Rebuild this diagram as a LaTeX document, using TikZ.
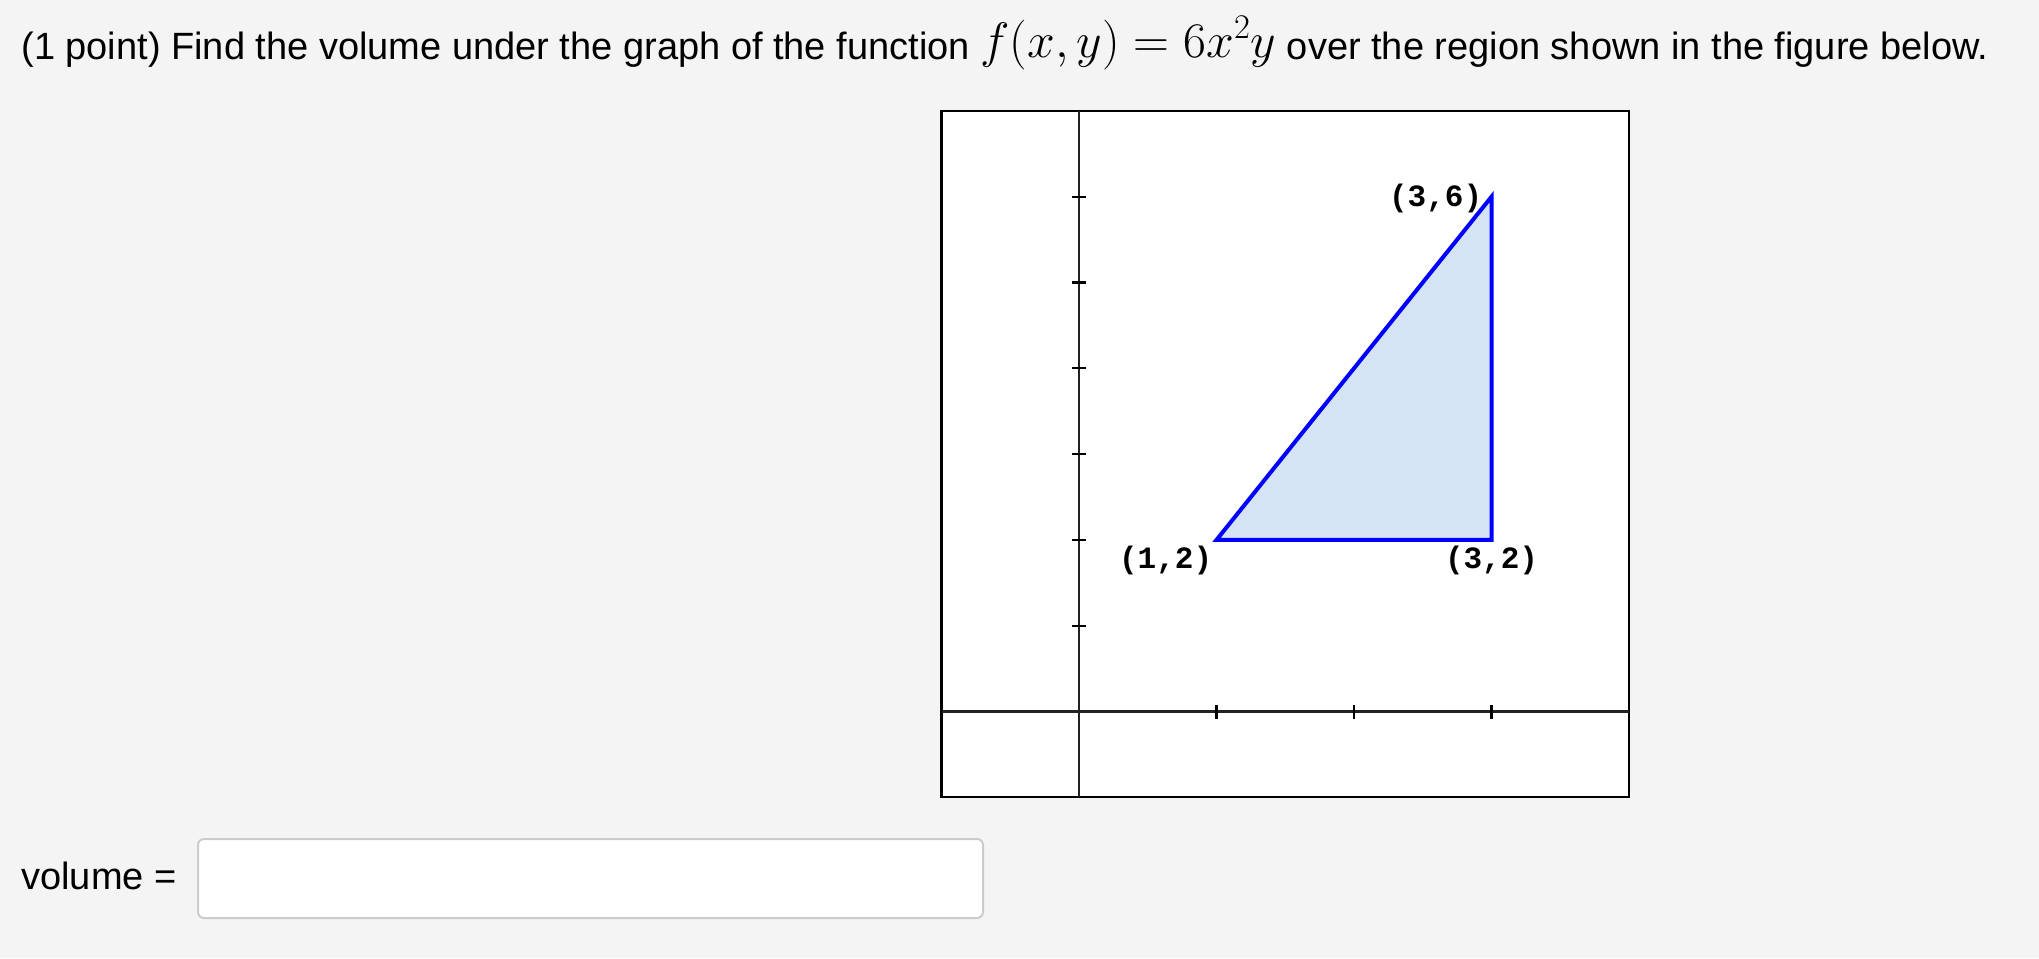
\documentclass[tikz,border=0pt]{standalone}
\usepackage{amsmath}
\usepackage{fontspec}
\setmainfont{Liberation Sans}
\newfontfamily\ptfont{Liberation Mono}
\usetikzlibrary{positioning,calc}
\definecolor{pagebg}{HTML}{F4F4F4}
\definecolor{regionfill}{HTML}{D5E4F5}
\definecolor{boxgray}{HTML}{CCCCCC}
\definecolor{axisgray}{HTML}{222222}
\newcommand{\bigmath}[1]{{\fontsize{23}{27}\selectfont\raisebox{1pt}{$#1$}}}
\newcommand{\supsq}{\mbox{\fontsize{17}{17}\selectfont$2$}}
\tikzstyle{question} = [anchor=base west, inner sep=0pt, font=\fontsize{19}{23}\selectfont]
\tikzstyle{answerbox} = [draw=boxgray, line width=1pt, fill=white, rounded corners=3pt]
\tikzstyle{plotframe} = [draw=black, line width=1.1pt, fill=white]
\tikzstyle{axisline} = [draw=axisgray, line width=1.3pt]
\tikzstyle{axtick} = [draw=black, line width=1.1pt]
\tikzstyle{region} = [draw=blue, line width=2pt, fill=regionfill, line join=miter]
\tikzstyle{ptlabel} = [inner sep=0pt, font=\ptfont\bfseries\fontsize{15.5}{18}\selectfont]

\begin{document}
\begin{tikzpicture}[x=0.5pt, y=-0.5pt]
    % page
    \fill[pagebg] (0,0) rectangle (2039,958);
    \useasboundingbox (0,0) rectangle (2039,958);

    \node[question] (title) at (21,59) {(1 point) Find the volume under the graph of the function \bigmath{f(x,y) = 6x^{\supsq}y} over the region shown in the figure below.};
    \node[question] (answer) at (21,889) {volume =};
    \draw[answerbox] (198,839) rectangle (983,918);

    % plot
    \begin{scope}[shift={(1079,711.5)}, x=68.75pt, y=42.9pt]
        \draw[plotframe] (-1,-1) rectangle (4,7);
        \draw[axisline] (-1,0) -- (4,0);
        \draw[axisline] (0,-1) -- (0,7);
        \foreach \k in {1,...,6}
            \draw[axtick] (0,\k) ++(-3.5pt,0) -- ++(7pt,0);
        \foreach \k in {1,2,3}
            \draw[axtick] (\k,0) ++(0,-3.5pt) -- ++(0,7pt);

        \coordinate (p12) at (1,2);
        \coordinate (p32) at (3,2);
        \coordinate (p36) at (3,6);
        \filldraw[region] (p12) -- (p32) -- (p36) -- cycle;

        \node[ptlabel, anchor=base east] (lbl12) at ($(p12)+(-2pt,-14.5pt)$) {(1,2)};
        \node[ptlabel, anchor=base] (lbl32) at ($(p32)+(0,-14.5pt)$) {(3,2)};
        \node[ptlabel, anchor=base east] (lbl36) at ($(p36)+(-4.5pt,-5pt)$) {(3,6)};
    \end{scope}
\end{tikzpicture}
\end{document}
